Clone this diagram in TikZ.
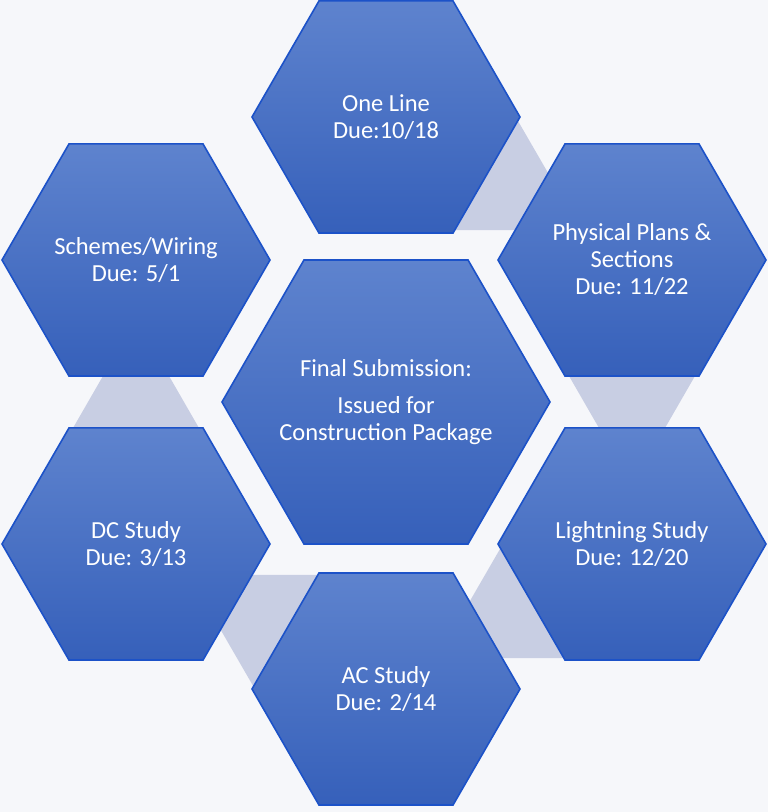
\documentclass[tikz,border=0pt]{standalone}
\usepackage{fontspec}
\setmainfont{Carlito}
\usetikzlibrary{shapes.geometric,calc,backgrounds}
\definecolor{bgc}{RGB}{246,247,250}
\definecolor{hextop}{RGB}{94,131,206}
\definecolor{hexbot}{RGB}{54,96,186}
\definecolor{hexline}{RGB}{28,82,200}
\definecolor{connc}{RGB}{200,206,227}
\tikzset{
  hexbox/.style={regular polygon, regular polygon sides=6, minimum size=#1,
    inner sep=0pt, outer sep=0pt, draw=hexline, line width=1.6pt,
    top color=hextop, bottom color=hexbot},
  hextext/.style={text=white, align=center, inner sep=0pt,
    font=\fontsize{24.5}{27}\selectfont},
  connshape/.style={fill=connc}
}
\newcommand\hexconn[3]{%
  \begin{scope}[on background layer, shift={($(#1)!0.5!(#2)$)}, rotate=#3]
    \fill[connshape] (-55,79.7) -- (55,16.3) -- (55,-16.3) -- (-55,-79.7) -- cycle;
  \end{scope}}
\begin{document}
\begin{tikzpicture}[x=1pt,y=1pt]
\useasboundingbox (0,0) rectangle (768,812);
\node[hexbox=268pt] (one)   at (386,695) {};
\node[hexbox=268pt] (phys)  at (632,552) {};
\node[hexbox=268pt] (light) at (632,268) {};
\node[hexbox=268pt] (ac)    at (386,123) {};
\node[hexbox=268pt] (dc)    at (136,268) {};
\node[hexbox=268pt] (sch)   at (136,552) {};
\node[hexbox=328pt] (fin)   at (386,410) {};
\node[hextext] (onet)   at (one)   {One Line\\Due:10/18};
\node[hextext] (physt)  at (phys)  {Physical Plans \&\\Sections\\Due: 11/22};
\node[hextext] (lightt) at (light) {Lightning Study\\Due: 12/20};
\node[hextext] (act)    at (ac)    {AC Study\\Due: 2/14};
\node[hextext] (dct)    at (dc)    {DC Study\\Due: 3/13};
\node[hextext] (scht)   at (sch)   {Schemes/Wiring\\Due: 5/1};
\node[hextext] (fint)   at (fin)   {Final Submission:\\[10pt]Issued for\\Construction Package};
\begin{scope}[on background layer]
  \fill[bgc] (0,0) rectangle (768,812);
\end{scope}
\hexconn{one}{phys}{-30}
\hexconn{phys}{light}{-90}
\hexconn{light}{ac}{-150}
\hexconn{ac}{dc}{150}
\hexconn{dc}{sch}{90}
\end{tikzpicture}
\end{document}
